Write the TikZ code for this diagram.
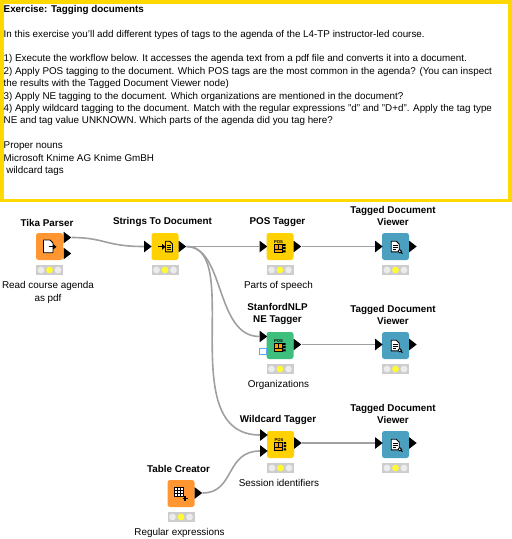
\documentclass[tikz,border=0pt]{standalone}
\usepackage{fontspec}
\setmainfont{Liberation Sans}
\usetikzlibrary{positioning,shapes.geometric}
\definecolor{knimeyellow}{RGB}{255,209,0}
\definecolor{knimeorange}{RGB}{255,150,50}
\definecolor{knimegreen}{RGB}{62,191,125}
\definecolor{knimeblue}{RGB}{75,160,192}
\definecolor{framecol}{RGB}{255,216,0}
\definecolor{wirecol}{RGB}{160,160,160}
\definecolor{lampcol}{RGB}{205,205,205}
\definecolor{lampoff}{RGB}{236,236,236}
\definecolor{lampon}{RGB}{255,250,50}
\definecolor{selcol}{RGB}{90,170,245}
\tikzset{
  knode/.style={rounded corners=2.5pt, minimum size=27pt, inner sep=0pt},
  port/.style={isosceles triangle, isosceles triangle apex angle=75, fill=black, inner sep=0pt,
    minimum height=7.5pt, minimum width=10pt, anchor=west},
  wire/.style={draw=wirecol, line width=1.6pt},
  title/.style={font=\bfseries\fontsize{9.85}{12.3}\selectfont, align=center, inner sep=0pt, xshift=-2.5pt},
  caption/.style={font=\fontsize{9.9}{13}\selectfont, align=center, inner sep=0pt, xshift=-1.5pt},
  lamps/.style={fill=lampcol, minimum width=27pt, minimum height=10pt, inner sep=0pt},
  doc/.style={draw=black, fill=white, line width=0.9pt, line join=round}
}
\newcommand{\statuslamps}[2]{% name, position
  \node[lamps] (#1) at (#2) {};
  \fill[lampoff] ([xshift=-8.5pt]#1.center) circle (3.4pt);
  \fill[lampon] (#1.center) circle (3.4pt);
  \fill[lampoff] ([xshift=8.5pt]#1.center) circle (3.4pt);
}
\newcommand{\tagicon}[1]{% POS tagger glyph
  \begin{scope}[shift={(#1.center)}]
  \node[inner sep=0pt, font=\bfseries\fontsize{4.2}{4}\selectfont] at (-1.5,-4.7) {POS};
  \draw[line width=0.8pt, fill=orange!75!yellow] (-6,-1.7) rectangle (2,6.3);
  \draw[line width=0.6pt] (-6,2.5) -- (2,2.5) (-2,-1.7) -- (-2,2.5);
  \fill (3,-2.5) rectangle (5.7,-0.5) (3,0.7) rectangle (5.7,2.7) (3,3.9) rectangle (5.7,5.9);
  \end{scope}
}
\begin{document}
\begin{tikzpicture}[x=1pt, y=-1pt]
\useasboundingbox (0,0) rectangle (512,539);
\draw[framecol, line width=3.6pt, fill=white] (1.8,1.8) rectangle (510.2,200.4);
\node[anchor=north west, inner sep=0pt, align=left, font=\fontsize{9.84}{12.4}\selectfont] (note) at (3.5,5)
{\textbf{Exercise: Tagging documents}\\
\\
In this exercise you'll add different types of tags to the agenda of the L4-TP instructor-led course.\\
\\
1) Execute the workflow below. It accesses the agenda text from a pdf file and converts it into a document.\\
2) Apply POS tagging to the document. Which POS tags are the most common in the agenda? (You can inspect\\
the results with the Tagged Document Viewer node)\\
3) Apply NE tagging to the document. Which organizations are mentioned in the document?\\
4) Apply wildcard tagging to the document. Match with the regular expressions "d" and "D+d". Apply the tag type\\
NE and tag value UNKNOWN. Which parts of the agenda did you tag here?\\
\\
Proper nouns\\
Microsoft Knime AG Knime GmBH\\
\ wildcard tags};
% workflow nodes
\node[knode, fill=knimeorange] (tika) at (49.5,246.5) {};
\node[knode, fill=knimeyellow] (strings) at (165,246.5) {};
\node[knode, fill=knimeyellow] (pos) at (280,246.5) {};
\node[knode, fill=knimeblue] (viewa) at (395.5,246.5) {};
\node[knode, fill=knimegreen] (ner) at (280,345.5) {};
\node[knode, fill=knimeblue] (viewb) at (395.5,345.5) {};
\node[knode, fill=knimeyellow] (wild) at (280.5,444.5) {};
\node[knode, fill=knimeblue] (viewc) at (395.5,444.5) {};
\node[knode, fill=knimeorange] (table) at (181,493.5) {};
% ports
\node[port] (tikaouta) at (63.5,237.5) {};
\node[port] (tikaoutb) at (63.5,253.5) {};
\node[port] (stringsin) at (144,246.5) {};
\node[port] (stringsout) at (178.5,246.5) {};
\node[port] (posin) at (259.5,246.5) {};
\node[port] (posout) at (293.5,246.5) {};
\node[port] (viewain) at (375,246.5) {};
\node[port] (viewaout) at (409,246.5) {};
\node[port] (nerin) at (259.5,336.5) {};
\node[port] (nerout) at (293.5,344.5) {};
\node[port] (viewbin) at (375,344.5) {};
\node[port] (viewbout) at (409,344.5) {};
\node[port] (wildin) at (260,435) {};
\node[port] (wildinb) at (260,451) {};
\node[port] (wildout) at (294,443) {};
\node[port] (viewcin) at (375,443) {};
\node[port] (viewcout) at (409,443) {};
\node[port] (tableout) at (194.5,493) {};
\node[draw=selcol, fill=white, line width=1.2pt, minimum size=6.5pt, inner sep=0pt] (nersel) at (263,351.5) {};
% connectors
\draw[wire] (tikaouta.east) .. controls (105,237.5) and (105,246.5) .. (stringsin.west);
\draw[wire] (stringsout.east) -- (posin.west);
\draw[wire] (stringsout.east) .. controls (225,246.5) and (215,336.5) .. (nerin.west);
\draw[wire] (stringsout.east) .. controls (245,246.5) and (172,435) .. (wildin.west);
\draw[wire] (posout.east) -- (viewain.west);
\draw[wire] (nerout.east) -- (viewbin.west);
\draw[wire] (wildout.east) -- (viewcin.west);
\draw[wire] (tableout.east) .. controls (235,493) and (225,451) .. (wildinb.west);
% status lamps
\statuslamps{tikal}{49.5,270}
\statuslamps{stringsl}{165,270}
\statuslamps{posl}{280,270}
\statuslamps{viewal}{395.5,270}
\statuslamps{nerl}{280,369}
\statuslamps{viewbl}{395.5,369}
\statuslamps{wildl}{280.5,468}
\statuslamps{viewcl}{395.5,468}
\statuslamps{tablel}{181,517}
% titles
\node[title, above=6.5pt of tika] (tikat) {Tika Parser};
\node[title, above=6pt of strings] (stringst) {Strings To Document};
\node[title, above=6pt of pos] (post) {POS Tagger};
\node[title, above=7pt of viewa] (viewat) {Tagged Document\\Viewer};
\node[title, above=7pt of ner] (nert) {StanfordNLP\\NE Tagger};
\node[title, above=7pt of viewb] (viewbt) {Tagged Document\\Viewer};
\node[title, above=6pt of wild] (wildt) {Wildcard Tagger};
\node[title, above=7pt of viewc] (viewct) {Tagged Document\\Viewer};
\node[title, above=7pt of table] (tablet) {Table Creator};
% captions
\node[caption, below=6pt of tikal] (tikac) {Read course agenda\\as pdf};
\node[caption, below=6pt of posl] (posc) {Parts of speech};
\node[caption, below=6pt of nerl] (nerc) {Organizations};
\node[caption, below=6pt of wildl] (wildc) {Session identifiers};
\node[caption, below=6pt of tablel] (tablec) {Regular expressions};
% glyphs
\tagicon{pos}
\tagicon{ner}
\tagicon{wild}
\begin{scope}[shift={(tika.center)}]
\draw[doc] (-6,-6.5) -- (0.5,-6.5) -- (3.5,-3.5) -- (3.5,6.2) -- (-6,6.2) -- cycle;
\draw[line width=1pt] (-1,0.3) -- (4,0.3);
\fill (7,0.3) -- (3.5,-2.5) -- (3.5,3.1) -- cycle;
\end{scope}
\begin{scope}[shift={(strings.center)}]
\draw[doc, fill=knimeyellow] (0.5,-5.3) -- (4.7,-5.3) -- (7.5,-2.5) -- (7.5,5.3) -- (0.5,5.3) -- cycle;
\draw[line width=0.6pt] (2.2,-1) -- (6,-1) (2.2,1) -- (6,1) (2.2,3) -- (6,3);
\draw[line width=1.1pt] (-7,0.3) -- (-2,0.3);
\fill (0.5,0.3) -- (-3,-2.7) -- (-3,3.3) -- cycle;
\end{scope}
\foreach \n in {viewa,viewb,viewc} {
\begin{scope}[shift={(\n.center)}]
\draw[doc] (-4.3,-5.3) -- (0.7,-5.3) -- (3.7,-2.3) -- (3.7,5.3) -- (-4.3,5.3) -- cycle;
\draw[line width=0.6pt] (-2.7,-1.5) -- (2,-1.5) (-2.7,0.8) -- (2,0.8) (-2.7,3) -- (0,3);
\draw[line width=0.8pt, fill=white] (4.3,4.7) circle (1.7);
\draw[line width=1.1pt] (5.5,6) -- (7,7);
\end{scope}
}
\begin{scope}[shift={(table.center)}]
\draw[line width=0.7pt, fill=white] (-6.3,-6) rectangle (2,2.7);
\draw[line width=0.6pt] (-6.3,-3.1) -- (2,-3.1) (-6.3,-0.2) -- (2,-0.2) (-3.5,-6) -- (-3.5,2.7) (-0.7,-6) -- (-0.7,2.7);
\draw[line width=1.2pt] (1.5,4.7) -- (6.5,4.7) (4,2.2) -- (4,7.2);
\end{scope}
\end{tikzpicture}
\end{document}
